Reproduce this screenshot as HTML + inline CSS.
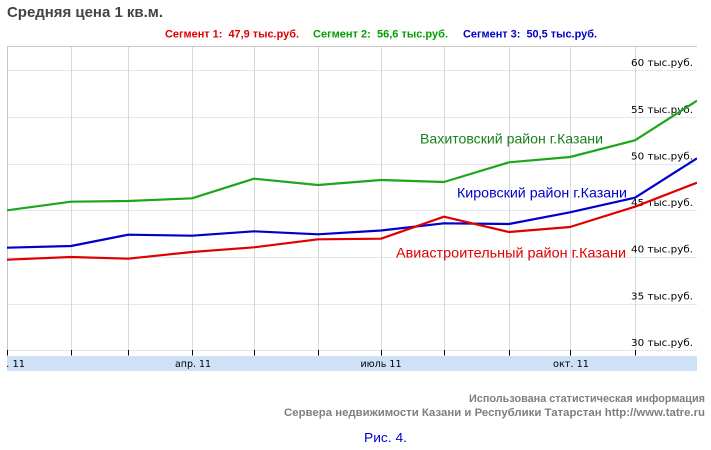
<!DOCTYPE html>
<html><head><meta charset="utf-8"><style>
html,body{margin:0;padding:0;background:#fff;width:711px;height:450px;overflow:hidden}
svg{display:block}
</style></head><body>
<svg width="711" height="450" viewBox="0 0 711 450" xmlns="http://www.w3.org/2000/svg">
<defs><clipPath id="pc"><rect x="7" y="40" width="690" height="311"/></clipPath>
<clipPath id="bc"><rect x="7" y="356" width="690" height="15"/></clipPath></defs>
<rect width="711" height="450" fill="#fff"/>
<!-- title -->
<text x="7" y="17" font-family="Liberation Sans, sans-serif" font-weight="bold" font-size="15" fill="#444" textLength="156" lengthAdjust="spacingAndGlyphs">Средняя цена 1 кв.м.</text>
<!-- legend -->
<g font-family="Liberation Sans, sans-serif" font-weight="bold" font-size="11">
<text x="165" y="37.5" fill="#dd0000" textLength="134" lengthAdjust="spacingAndGlyphs" xml:space="preserve">Сегмент 1:  47,9 тыс.руб.</text>
<text x="313" y="37.5" fill="#00a000" textLength="135" lengthAdjust="spacingAndGlyphs" xml:space="preserve">Сегмент 2:  56,6 тыс.руб.</text>
<text x="463" y="37.5" fill="#0000cc" textLength="134" lengthAdjust="spacingAndGlyphs" xml:space="preserve">Сегмент 3:  50,5 тыс.руб.</text>
</g>
<!-- horizontal gridlines -->
<g stroke="#e6e6ef" stroke-width="1">
<line x1="7" y1="70.5" x2="697" y2="70.5"/>
<line x1="7" y1="117.5" x2="697" y2="117.5"/>
<line x1="7" y1="164.5" x2="697" y2="164.5"/>
<line x1="7" y1="210.5" x2="697" y2="210.5"/>
<line x1="7" y1="257.5" x2="697" y2="257.5"/>
<line x1="7" y1="304.5" x2="697" y2="304.5"/>
<line x1="7" y1="350.5" x2="697" y2="350.5"/>
</g>
<!-- vertical gridlines -->
<g stroke="#d3dbd3" stroke-width="1">
<line x1="71.5" y1="46" x2="71.5" y2="350"/>
<line x1="128.5" y1="46" x2="128.5" y2="350"/>
<line x1="192.5" y1="46" x2="192.5" y2="350"/>
<line x1="254.5" y1="46" x2="254.5" y2="350"/>
<line x1="318.5" y1="46" x2="318.5" y2="350"/>
<line x1="381.5" y1="46" x2="381.5" y2="350"/>
<line x1="444.5" y1="46" x2="444.5" y2="350"/>
<line x1="509.5" y1="46" x2="509.5" y2="350"/>
<line x1="570.5" y1="46" x2="570.5" y2="350"/>
<line x1="635.5" y1="46" x2="635.5" y2="350"/>
</g>
<!-- border -->
<line x1="7" y1="46.5" x2="697" y2="46.5" stroke="#c8c8c8"/>
<line x1="7.5" y1="46" x2="7.5" y2="351" stroke="#c8c8c8"/>
<!-- y labels -->
<g font-family="DejaVu Sans, sans-serif" font-size="10" fill="#000" text-anchor="end">
<text x="693" y="66" textLength="62" lengthAdjust="spacingAndGlyphs">60 тыс.руб.</text>
<text x="693" y="113" textLength="62" lengthAdjust="spacingAndGlyphs">55 тыс.руб.</text>
<text x="693" y="159.5" textLength="62" lengthAdjust="spacingAndGlyphs">50 тыс.руб.</text>
<text x="693" y="206" textLength="62" lengthAdjust="spacingAndGlyphs">45 тыс.руб.</text>
<text x="693" y="252.7" textLength="62" lengthAdjust="spacingAndGlyphs">40 тыс.руб.</text>
<text x="693" y="299.5" textLength="62" lengthAdjust="spacingAndGlyphs">35 тыс.руб.</text>
<text x="693" y="346" textLength="62" lengthAdjust="spacingAndGlyphs">30 тыс.руб.</text>
</g>
<!-- series -->
<g clip-path="url(#pc)" fill="none" stroke-width="2.2" stroke-linejoin="round">
<polyline stroke="#1ca61c" points="7,210.3 71,201.7 128,201 192,198.3 254,178.7 318,185 381,180 444,182 509,162.3 570,157 635,140.3 697,100.7"/>
<polyline stroke="#0000cc" points="7,247.7 71,246 128,234.7 192,235.7 254,231.3 318,234.3 381,230.5 444,223.3 509,224 570,212.3 635,197.7 697,158.3"/>
<polyline stroke="#e00000" points="7,259.7 71,257 128,258.7 192,252 254,247.3 318,239.3 381,238.7 444,216.7 509,232 570,227 635,206.7 697,182.7"/>
</g>
<!-- annotations -->
<g font-family="Liberation Sans, sans-serif" font-size="14">
<text x="420" y="143.3" fill="#1a801a" textLength="183" lengthAdjust="spacingAndGlyphs">Вахитовский район г.Казани</text>
<text x="457" y="197.3" fill="#0000cc" textLength="170" lengthAdjust="spacingAndGlyphs">Кировский район г.Казани</text>
<text x="396" y="257.3" fill="#e00000" textLength="230" lengthAdjust="spacingAndGlyphs">Авиастроительный район г.Казани</text>
</g>
<!-- ticks -->
<g stroke="#000" stroke-width="1">
<line x1="7.5" y1="350" x2="7.5" y2="355.5"/>
<line x1="71.5" y1="350" x2="71.5" y2="355.5"/>
<line x1="128.5" y1="350" x2="128.5" y2="355.5"/>
<line x1="192.5" y1="350" x2="192.5" y2="355.5"/>
<line x1="254.5" y1="350" x2="254.5" y2="355.5"/>
<line x1="318.5" y1="350" x2="318.5" y2="355.5"/>
<line x1="381.5" y1="350" x2="381.5" y2="355.5"/>
<line x1="444.5" y1="350" x2="444.5" y2="355.5"/>
<line x1="509.5" y1="350" x2="509.5" y2="355.5"/>
<line x1="570.5" y1="350" x2="570.5" y2="355.5"/>
<line x1="635.5" y1="350" x2="635.5" y2="355.5"/>
</g>
<!-- x band -->
<rect x="7" y="356" width="690" height="15" fill="#cfe1f7"/>
<g font-family="DejaVu Sans, sans-serif" font-size="10" fill="#000" clip-path="url(#bc)">
<text x="25" y="367" text-anchor="end" textLength="37" lengthAdjust="spacingAndGlyphs">янв. 11</text>
<text x="193" y="367" text-anchor="middle" textLength="36" lengthAdjust="spacingAndGlyphs">апр. 11</text>
<text x="381" y="367" text-anchor="middle" textLength="41" lengthAdjust="spacingAndGlyphs">июль 11</text>
<text x="571" y="367" text-anchor="middle" textLength="36" lengthAdjust="spacingAndGlyphs">окт. 11</text>
</g>
<!-- footer -->
<g font-family="Liberation Sans, sans-serif" font-weight="bold" font-size="11" fill="#7f7f7f" text-anchor="end">
<text x="705" y="402" textLength="236" lengthAdjust="spacingAndGlyphs">Использована статистическая информация</text>
<text x="705" y="416" textLength="421" lengthAdjust="spacingAndGlyphs">Сервера недвижимости Казани и Республики Татарстан http://www.tatre.ru</text>
</g>
<text x="364" y="442" font-family="Liberation Sans, sans-serif" font-size="13" fill="#0000cc" textLength="43" lengthAdjust="spacingAndGlyphs">Рис. 4.</text>
</svg>
</body></html>
